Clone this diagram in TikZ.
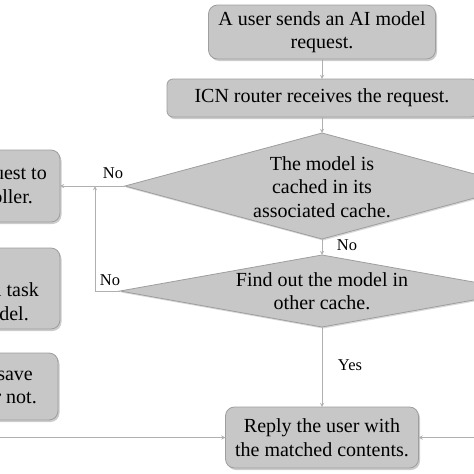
\documentclass[tikz,border=0pt]{standalone}
\usepackage{fontspec}
\setmainfont{Liberation Serif}
\usetikzlibrary{arrows, shapes, shadows}

\definecolor{boxgray}{RGB}{199,199,199}
\definecolor{edgegray}{RGB}{158,158,158}
\definecolor{linegray}{RGB}{176,176,176}

\tikzset{
  stepbox/.style={rectangle, rounded corners=9pt, fill=boxgray, draw=edgegray, line width=0.8pt, inner sep=0pt, outer sep=0pt, align=center, font=\fontsize{20}{23.5}\selectfont, drop shadow={shadow xshift=1.5pt, shadow yshift=-2pt, fill=black!40}},
  decbox/.style={diamond, fill=boxgray, draw=edgegray, line width=0.8pt, inner sep=0pt, outer sep=0pt, drop shadow={shadow xshift=1pt, shadow yshift=-1.5pt, fill=black!30}},
  boxtext/.style={align=center, inner sep=0pt, font=\fontsize{20}{23.5}\selectfont},
  answer/.style={inner sep=0pt, font=\fontsize{16.5}{18}\selectfont},
  flow/.style={->, >=stealth, draw=linegray, line width=0.9pt},
}

\begin{document}
\begin{tikzpicture}[x=1pt, y=-1pt]

    \useasboundingbox (0,0) rectangle (474,474);
    \clip (0,0) rectangle (474,474);

    % main column
    \node[stepbox, minimum width=227, minimum height=54] (send) at (322,32) {A user sends an AI model\\request.};
    \node[stepbox, minimum width=310, minimum height=38, rounded corners=6pt] (recv) at (322,98) {ICN router receives the request.};

    \node[decbox, minimum width=394, minimum height=106] (cached) at (322,186) {};
    \node[boxtext] (cachedtext) at (322,187) {The model is\\cached in its\\associated cache.};

    \node[decbox, minimum width=404, minimum height=72] (other) at (322,291) {};
    \node[boxtext] (othertext) at (322,291) {Find out the model in\\other cache.};

    \node[stepbox, minimum width=193, minimum height=61] (reply) at (322,437.5) {Reply the user with\\the matched contents.};

    % left column (cut off)
    \node[stepbox, minimum width=160, minimum height=72] (forward) at (-20,186) {};
    \node[boxtext, align=right, anchor=east] (forwardtext) at (47,186) {uest to\\oller.\hspace*{14pt}};

    \node[stepbox, minimum width=160, minimum height=81] (task) at (-20,288.5) {};
    \node[boxtext, align=right, anchor=east] (tasktext) at (39,301.5) {a task\\del.\hspace*{10pt}};

    \node[stepbox, minimum width=158, minimum height=67] (save) at (-21,386.5) {};
    \node[boxtext, align=right, anchor=east] (savetext) at (37,387.5) {save\hspace*{4pt}\\r not.};

    \coordinate (merge) at (95,186);
    \coordinate (leftin) at (-5,437.5);
    \coordinate (rightin) at (480,437.5);

    % connectors
    \draw[flow] (send) -- (recv);
    \draw[flow] (recv) -- (cached);
    \draw[flow] (cached) -- (forward);
    \draw[flow] (cached) -- (other);
    \draw[flow] (other.west) -| (merge);
    \draw[flow] (other) -- (reply);
    \draw[flow] (leftin) -- (reply.west);
    \draw[flow] (rightin) -- (reply.east);

    % answers
    \node[answer] (no1) at (113,173) {No};
    \node[answer] (no2) at (347,245) {No};
    \node[answer] (no3) at (110,280) {No};
    \node[answer] (yes1) at (350,365) {Yes};

\end{tikzpicture}
\end{document}
